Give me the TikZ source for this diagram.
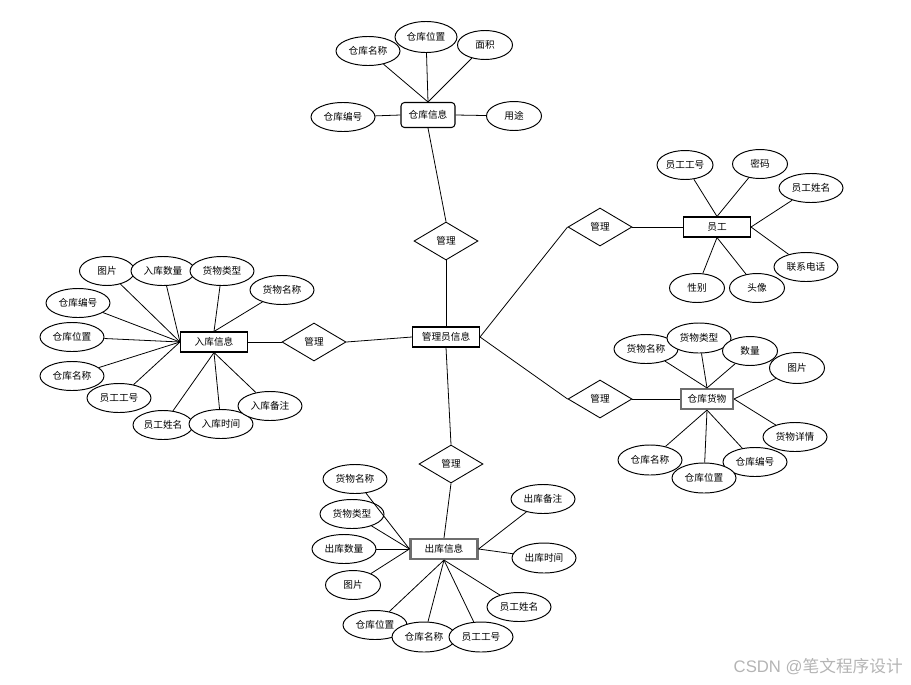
\documentclass[tikz,border=0pt]{standalone}
\usepackage{fontspec}
\setmainfont{Liberation Sans}
\newfontfamily\cjk{Noto Sans CJK SC}
\usetikzlibrary{shapes.geometric}
\definecolor{boxgray}{HTML}{6E6E6E}
\definecolor{csdngray}{HTML}{B4B4B4}

\tikzset{
  attr/.style={ellipse, draw, fill=white, line width=0.55pt, inner sep=0pt,
    minimum width=1.28cm, minimum height=0.58cm, font=\cjk\fontsize{5.5}{6}\selectfont},
  attrs/.style={attr, minimum width=1.1cm},
  entity/.style={rectangle, draw, fill=white, line width=0.6pt, inner sep=0pt,
    minimum width=1.34cm, minimum height=0.4cm, font=\cjk\fontsize{5.5}{6}\selectfont},
  entityg/.style={entity, draw=boxgray, line width=1.2pt},
  rel/.style={diamond, draw, fill=white, line width=0.5pt, inner sep=0pt,
    minimum width=1.28cm, minimum height=0.76cm, font=\cjk\fontsize{5.5}{6}\selectfont},
  link/.style={line width=0.45pt}
}

\begin{document}
\begin{tikzpicture}

% Page
\useasboundingbox (0,0) rectangle (18.22,-13.68);

% Warehouse entity (top)
\node[entity, rounded corners=2pt, minimum width=1.08cm, minimum height=0.5cm] (ckxx) at (8.56,-2.30) {仓库信息};
\node[attr]  (ckxx1) at (7.36,-1.02) {仓库名称};
\node[attrs, minimum width=1.24cm, minimum height=0.62cm] (ckxx2) at (8.52,-0.74) {仓库位置};
\node[attrs] (ckxx3) at (9.70,-0.90) {面积};
\node[attr]  (ckxx4) at (6.86,-2.34) {仓库编号};
\node[attrs] (ckxx5) at (10.28,-2.32) {用途};
\foreach \a in {ckxx1,ckxx2,ckxx3} {
  \draw[link] (\a) -- (ckxx.north);
}
\draw[link] (ckxx4) -- (ckxx.west);
\draw[link] (ckxx5) -- (ckxx.east);

% Admin entity (centre) and its relations
\node[entity] (admin) at (8.92,-6.74) {管理员信息};
\node[rel] (gl1) at (8.92,-4.82) {管理};
\node[rel] (gl2) at (6.28,-6.84) {管理};
\node[rel] (gl3) at (12.00,-4.54) {管理};
\node[rel] (gl4) at (12.00,-7.98) {管理};
\node[rel] (gl5) at (9.02,-9.28) {管理};
\draw[link] (ckxx.south) -- (gl1.north);
\draw[link] (gl1.south) -- (admin.north);
\draw[link] (admin.west) -- (gl2.east);
\draw[link] (admin.east) -- (gl3.west);
\draw[link] (admin.east) -- (gl4.west);
\draw[link] (admin.south) -- (gl5.north);

% Stock-in entity (left)
\node[entity] (rk) at (4.28,-6.84) {入库信息};
\node[attrs] (rk1)  at (2.14,-5.42) {图片};
\node[attr]  (rk2)  at (3.26,-5.42) {入库数量};
\node[attr]  (rk3)  at (4.44,-5.42) {货物类型};
\node[attr]  (rk4)  at (5.64,-5.80) {货物名称};
\node[attr]  (rk5)  at (1.56,-6.06) {仓库编号};
\node[attr]  (rk6)  at (1.44,-6.74) {仓库位置};
\node[attr]  (rk7)  at (1.44,-7.52) {仓库名称};
\node[attr]  (rk8)  at (2.38,-7.96) {员工工号};
\node[attr, minimum width=1.2cm] (rk9)  at (3.26,-8.50) {员工姓名};
\node[attr]  (rk10) at (4.42,-8.48) {入库时间};
\node[attr]  (rk11) at (5.40,-8.12) {入库备注};
\draw[link] (gl2.west) -- (rk.east);
\foreach \a in {rk1,rk2,rk5,rk6,rk7,rk8} {
  \draw[link] (\a) -- (rk.west);
}
\foreach \a in {rk3,rk4} {
  \draw[link] (\a) -- (rk.north);
}
\foreach \a in {rk9,rk10,rk11} {
  \draw[link] (\a) -- (rk.south);
}

% Staff entity (right, top)
\node[entity] (yg) at (14.34,-4.54) {员工};
\node[attr, minimum width=1.12cm] (yg1) at (13.70,-3.30) {员工工号};
\node[attrs] (yg2) at (15.20,-3.28) {密码};
\node[attr]  (yg3) at (16.22,-3.76) {员工姓名};
\node[attr]  (yg4) at (16.12,-5.34) {联系电话};
\node[attrs] (yg5) at (13.94,-5.76) {性别};
\node[attrs] (yg6) at (15.14,-5.76) {头像};
\draw[link] (gl3.east) -- (yg.west);
\foreach \a in {yg1,yg2} {
  \draw[link] (\a) -- (yg.north);
}
\foreach \a in {yg3,yg4} {
  \draw[link] (\a) -- (yg.east);
}
\foreach \a in {yg5,yg6} {
  \draw[link] (\a) -- (yg.south);
}

% Goods entity (right, bottom)
\node[entityg, minimum width=1.04cm] (ckhw) at (14.14,-7.98) {仓库货物};
\node[attr]  (hw1) at (12.92,-6.98) {货物名称};
\node[attr, minimum height=0.6cm] (hw2) at (13.98,-6.76) {货物类型};
\node[attrs] (hw3) at (15.00,-7.02) {数量};
\node[attrs, minimum height=0.62cm] (hw4) at (15.94,-7.36) {图片};
\node[attr]  (hw5) at (15.90,-8.74) {货物详情};
\node[attr]  (hw6) at (15.10,-9.24) {仓库编号};
\node[attr, minimum height=0.6cm] (hw8) at (13.00,-9.20) {仓库名称};
\node[attr, minimum height=0.6cm] (hw7) at (14.08,-9.56) {仓库位置};
\draw[link] (gl4.east) -- (ckhw.west);
\foreach \a in {hw1,hw2,hw3} {
  \draw[link] (\a) -- (ckhw.north);
}
\foreach \a in {hw4,hw5} {
  \draw[link] (\a) -- (ckhw.east);
}
\foreach \a in {hw6,hw7,hw8} {
  \draw[link] (\a) -- (ckhw.south);
}

% Stock-out entity (bottom)
\node[entityg] (ck) at (8.88,-10.98) {出库信息};
\node[attr]  (ck1)  at (7.10,-9.58) {货物名称};
\node[attr]  (ck2)  at (7.04,-10.28) {货物类型};
\node[attr]  (ck3)  at (6.88,-10.98) {出库数量};
\node[attrs] (ck4)  at (7.06,-11.70) {图片};
\node[attr]  (ck5)  at (10.86,-9.98) {出库备注};
\node[attr, minimum height=0.6cm] (ck6)  at (10.88,-11.16) {出库时间};
\node[attr]  (ck7)  at (10.38,-12.14) {员工姓名};
\node[attr]  (ck8)  at (7.50,-12.50) {仓库位置};
\node[attr, minimum height=0.6cm] (ck9)  at (8.48,-12.74) {仓库名称};
\node[attr, minimum height=0.6cm] (ck10) at (9.62,-12.74) {员工工号};
\draw[link] (gl5.south) -- (ck.north);
\foreach \a in {ck1,ck2,ck3,ck4} {
  \draw[link] (\a) -- (ck.west);
}
\foreach \a in {ck5,ck6} {
  \draw[link] (\a) -- (ck.east);
}
\foreach \a in {ck7,ck8,ck9,ck10} {
  \draw[link] (\a) -- (ck.south);
}

% Watermark
\node[text=csdngray, font=\fontsize{9.5}{11}\selectfont, anchor=east] (csdn) at (18.18,-13.34) {CSDN @{\cjk 笔文程序设计}};

\end{tikzpicture}
\end{document}
